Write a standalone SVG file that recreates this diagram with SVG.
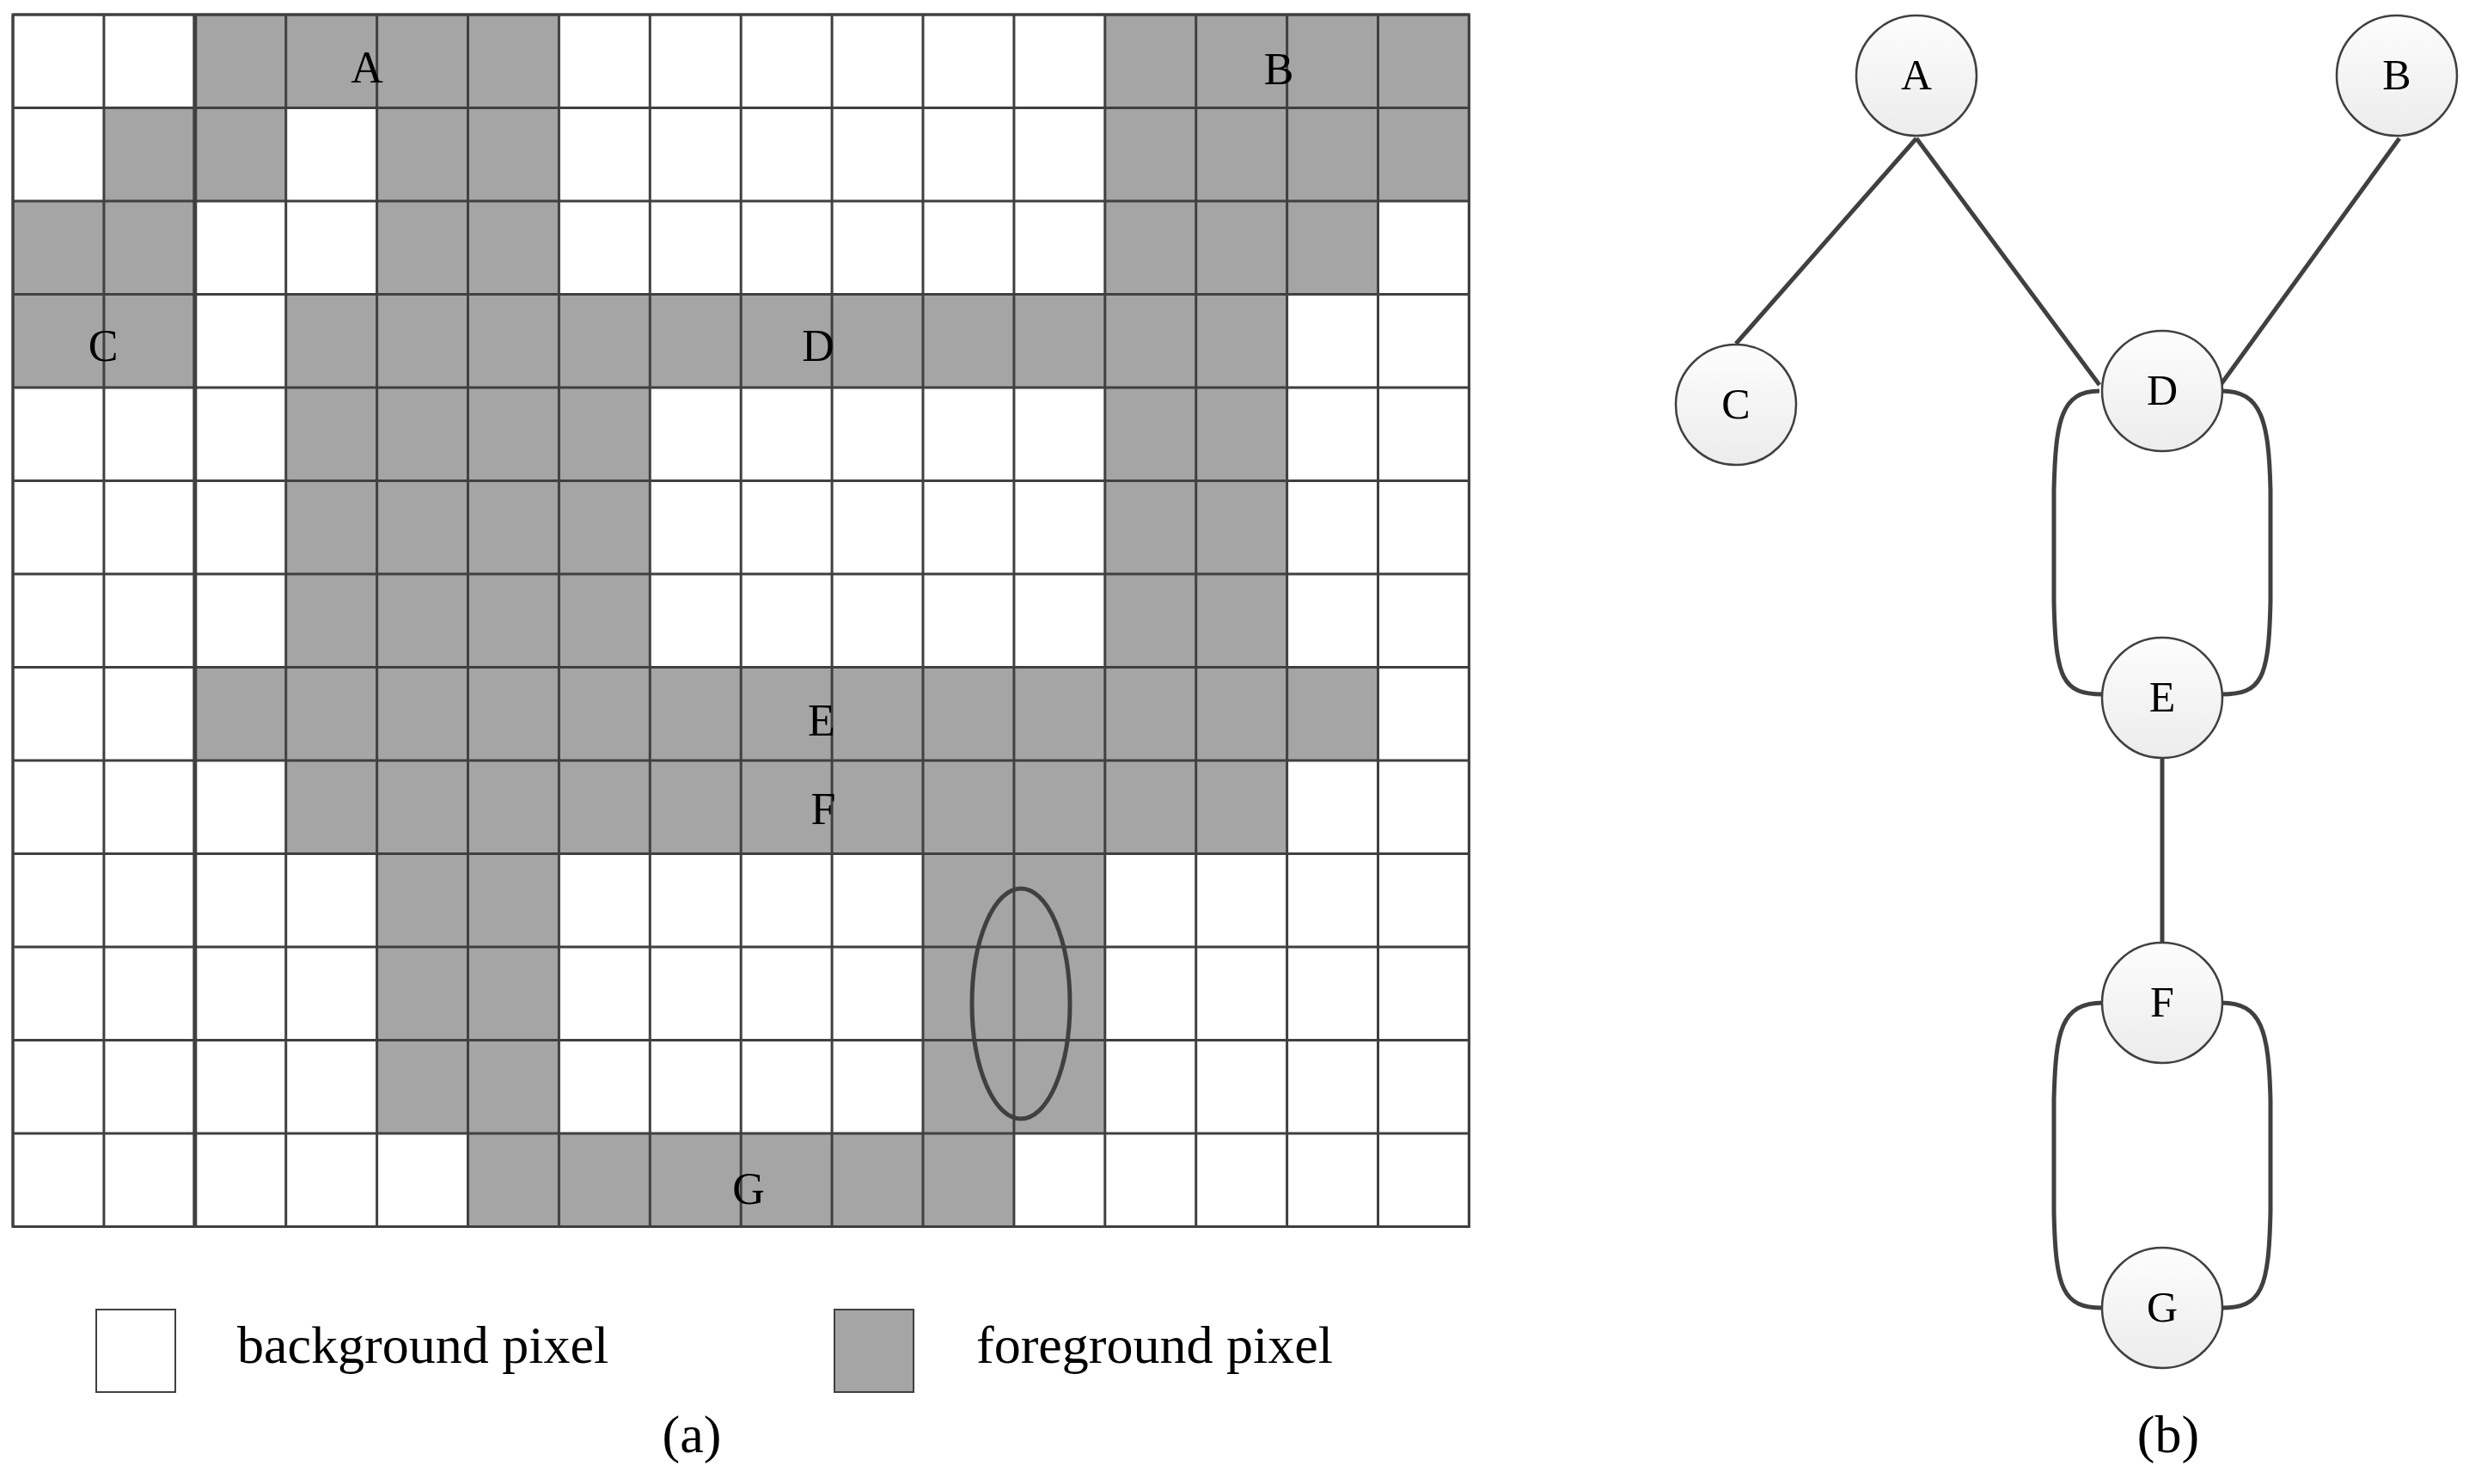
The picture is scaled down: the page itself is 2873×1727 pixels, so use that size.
<svg xmlns="http://www.w3.org/2000/svg" width="2873" height="1727" viewBox="0 0 2873 1727">
<defs>
<linearGradient id="ng" x1="0" y1="0" x2="0" y2="1"><stop offset="0" stop-color="#fdfdfd"/><stop offset="1" stop-color="#ececec"/></linearGradient>
</defs>
<style>
.g{fill:#a5a5a5}
.gl{stroke:#404040;stroke-width:3;fill:none}
.t{font-family:"Liberation Serif",serif;fill:#000}
.cl{font-size:52px;text-anchor:middle}
.n circle{fill:url(#ng);stroke:#404040;stroke-width:2.5}
.n text{font-family:"Liberation Serif",serif;font-size:50px;text-anchor:middle}
.e{stroke:#404040;stroke-width:5;fill:none}
</style>
<rect width="2873" height="1727" fill="#fff"/>
<g id="grid">
<rect class="g" x="226.8" y="17" width="423.6" height="108.5"/>
<rect class="g" x="1285.8" y="17" width="423.6" height="217"/>
<rect class="g" x="120.9" y="125.5" width="211.8" height="108.5"/>
<rect class="g" x="438.6" y="125.5" width="211.8" height="217"/>
<rect class="g" x="15" y="234" width="211.8" height="217"/>
<rect class="g" x="1285.8" y="234" width="317.7" height="108.5"/>
<rect class="g" x="332.7" y="342.5" width="1164.9" height="108.5"/>
<rect class="g" x="332.7" y="451" width="423.6" height="325.5"/>
<rect class="g" x="1285.8" y="451" width="211.8" height="325.5"/>
<rect class="g" x="226.8" y="776.5" width="1376.7" height="108.5"/>
<rect class="g" x="332.7" y="885" width="1164.9" height="108.5"/>
<rect class="g" x="438.6" y="993.5" width="211.8" height="325.5"/>
<rect class="g" x="1074" y="993.5" width="211.8" height="325.5"/>
<rect class="g" x="544.5" y="1319" width="635.4" height="108.5"/>
<path class="gl" d="M15,17V1427.5M120.9,17V1427.5M226.8,17V1427.5M332.7,17V1427.5M438.6,17V1427.5M544.5,17V1427.5M650.4,17V1427.5M756.3,17V1427.5M862.2,17V1427.5M968.1,17V1427.5M1074,17V1427.5M1179.9,17V1427.5M1285.8,17V1427.5M1391.7,17V1427.5M1497.6,17V1427.5M1603.5,17V1427.5M1709.4,17V1427.5M15,17H1709.4M15,125.5H1709.4M15,234H1709.4M15,342.5H1709.4M15,451H1709.4M15,559.5H1709.4M15,668H1709.4M15,776.5H1709.4M15,885H1709.4M15,993.5H1709.4M15,1102H1709.4M15,1210.5H1709.4M15,1319H1709.4M15,1427.5H1709.4"/>
<path d="M226.8,17V1427.5" stroke="#404040" stroke-width="5"/>
<path class="gl" d="M15,17H1709.4V1427.5H15Z" stroke-width="4"/>
<ellipse cx="1188" cy="1168" rx="57" ry="134" class="e"/>
<text class="t cl" x="427" y="96">A</text>
<text class="t cl" x="1488" y="98">B</text>
<text class="t cl" x="120" y="420">C</text>
<text class="t cl" x="952" y="420">D</text>
<text class="t cl" x="956" y="856">E</text>
<text class="t cl" x="958" y="959">F</text>
<text class="t cl" x="871" y="1401">G</text>
</g>
<g id="legend">
<rect x="112" y="1524" width="92" height="96" fill="#fff" stroke="#404040" stroke-width="2"/>
<rect x="971" y="1524" width="92" height="96" fill="#a5a5a5" stroke="#404040" stroke-width="2"/>
<text class="t" x="276" y="1586" font-size="62">background pixel</text>
<text class="t" x="1136" y="1586" font-size="62">foreground pixel</text>
<text class="t" x="805" y="1690" font-size="62" text-anchor="middle">(a)</text>
<text class="t" x="2523" y="1690" font-size="62" text-anchor="middle">(b)</text>
</g>
<g id="connectors">
<path class="e" d="M2230,161L2020,400"/>
<path class="e" d="M2230,161L2443,448"/>
<path class="e" d="M2792,161L2581,452"/>
<path class="e" d="M2443,455C2398,455 2392,490 2390,570L2390,700C2392,790 2400,808 2447,808"/>
<path class="e" d="M2585,455C2632,455 2640,490 2642,570L2642,700C2640,790 2632,808 2585,808"/>
<path class="e" d="M2516,883L2516,1097"/>
<path class="e" d="M2447,1167C2398,1167 2392,1200 2390,1280L2390,1410C2392,1500 2400,1522 2447,1522"/>
<path class="e" d="M2585,1167C2632,1167 2640,1200 2642,1280L2642,1410C2640,1500 2632,1522 2585,1522"/>
</g>
<g id="A" class="n"><circle cx="2230" cy="88" r="70"/><text x="2230" y="104">A</text></g>
<g id="B" class="n"><circle cx="2789" cy="88" r="70"/><text x="2789" y="104">B</text></g>
<g id="C" class="n"><circle cx="2020" cy="471" r="70"/><text x="2020" y="487">C</text></g>
<g id="D" class="n"><circle cx="2516" cy="455" r="70"/><text x="2516" y="471">D</text></g>
<g id="E" class="n"><circle cx="2516" cy="812" r="70"/><text x="2516" y="828">E</text></g>
<g id="F" class="n"><circle cx="2516" cy="1167" r="70"/><text x="2516" y="1183">F</text></g>
<g id="G" class="n"><circle cx="2516" cy="1522" r="70"/><text x="2516" y="1538">G</text></g>
</svg>
